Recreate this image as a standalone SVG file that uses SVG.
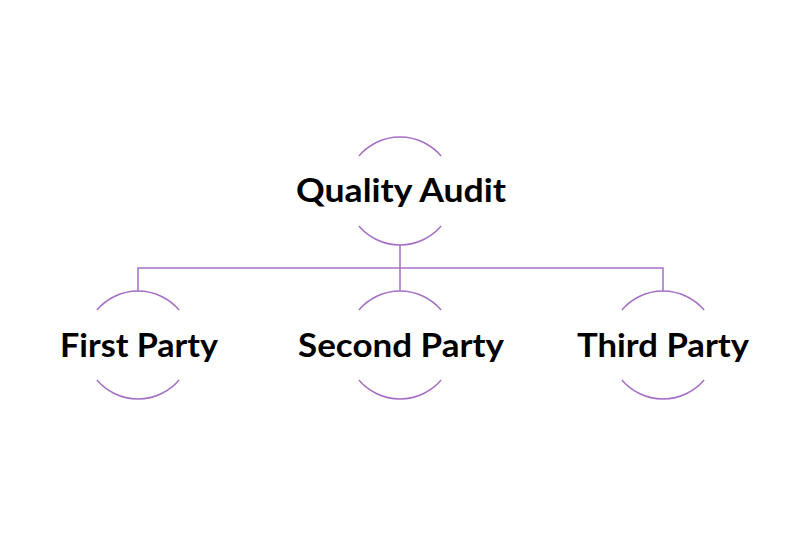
<svg xmlns="http://www.w3.org/2000/svg" width="800" height="533" viewBox="0 0 800 533">
<style>
.arc{fill:none;stroke:#a56fc6;stroke-width:1.5}
.con{fill:none;stroke:#a56fc6;stroke-width:1.5}
.lbl{font-family:Lato,"Open Sans","Liberation Sans",sans-serif;font-weight:bold;font-size:33px;fill:#000;text-anchor:middle}
</style>
<rect width="800" height="533" fill="#fff"/>
<g id="connectors">
<path class="con" d="M400 245 V268 M138 291 V268 H663 V291 M400 268 V291"/>
</g>
<g id="quality-audit">
<path class="arc" d="M358.9 156 A54 54 0 0 1 441.1 156"/>
<path class="arc" d="M358.9 226 A54 54 0 0 0 441.1 226"/>
<text class="lbl" x="401" y="202" textLength="210" lengthAdjust="spacingAndGlyphs">Quality Audit</text>
</g>
<g id="first-party">
<path class="arc" d="M96.9 310 A54 54 0 0 1 179.1 310"/>
<path class="arc" d="M96.9 380 A54 54 0 0 0 179.1 380"/>
<text class="lbl" x="139" y="357" textLength="158" lengthAdjust="spacingAndGlyphs">First Party</text>
</g>
<g id="second-party">
<path class="arc" d="M358.9 310 A54 54 0 0 1 441.1 310"/>
<path class="arc" d="M358.9 380 A54 54 0 0 0 441.1 380"/>
<text class="lbl" x="401" y="357" textLength="206" lengthAdjust="spacingAndGlyphs">Second Party</text>
</g>
<g id="third-party">
<path class="arc" d="M621.9 310 A54 54 0 0 1 704.1 310"/>
<path class="arc" d="M621.9 380 A54 54 0 0 0 704.1 380"/>
<text class="lbl" x="663" y="357" textLength="172" lengthAdjust="spacingAndGlyphs">Third Party</text>
</g>
</svg>
